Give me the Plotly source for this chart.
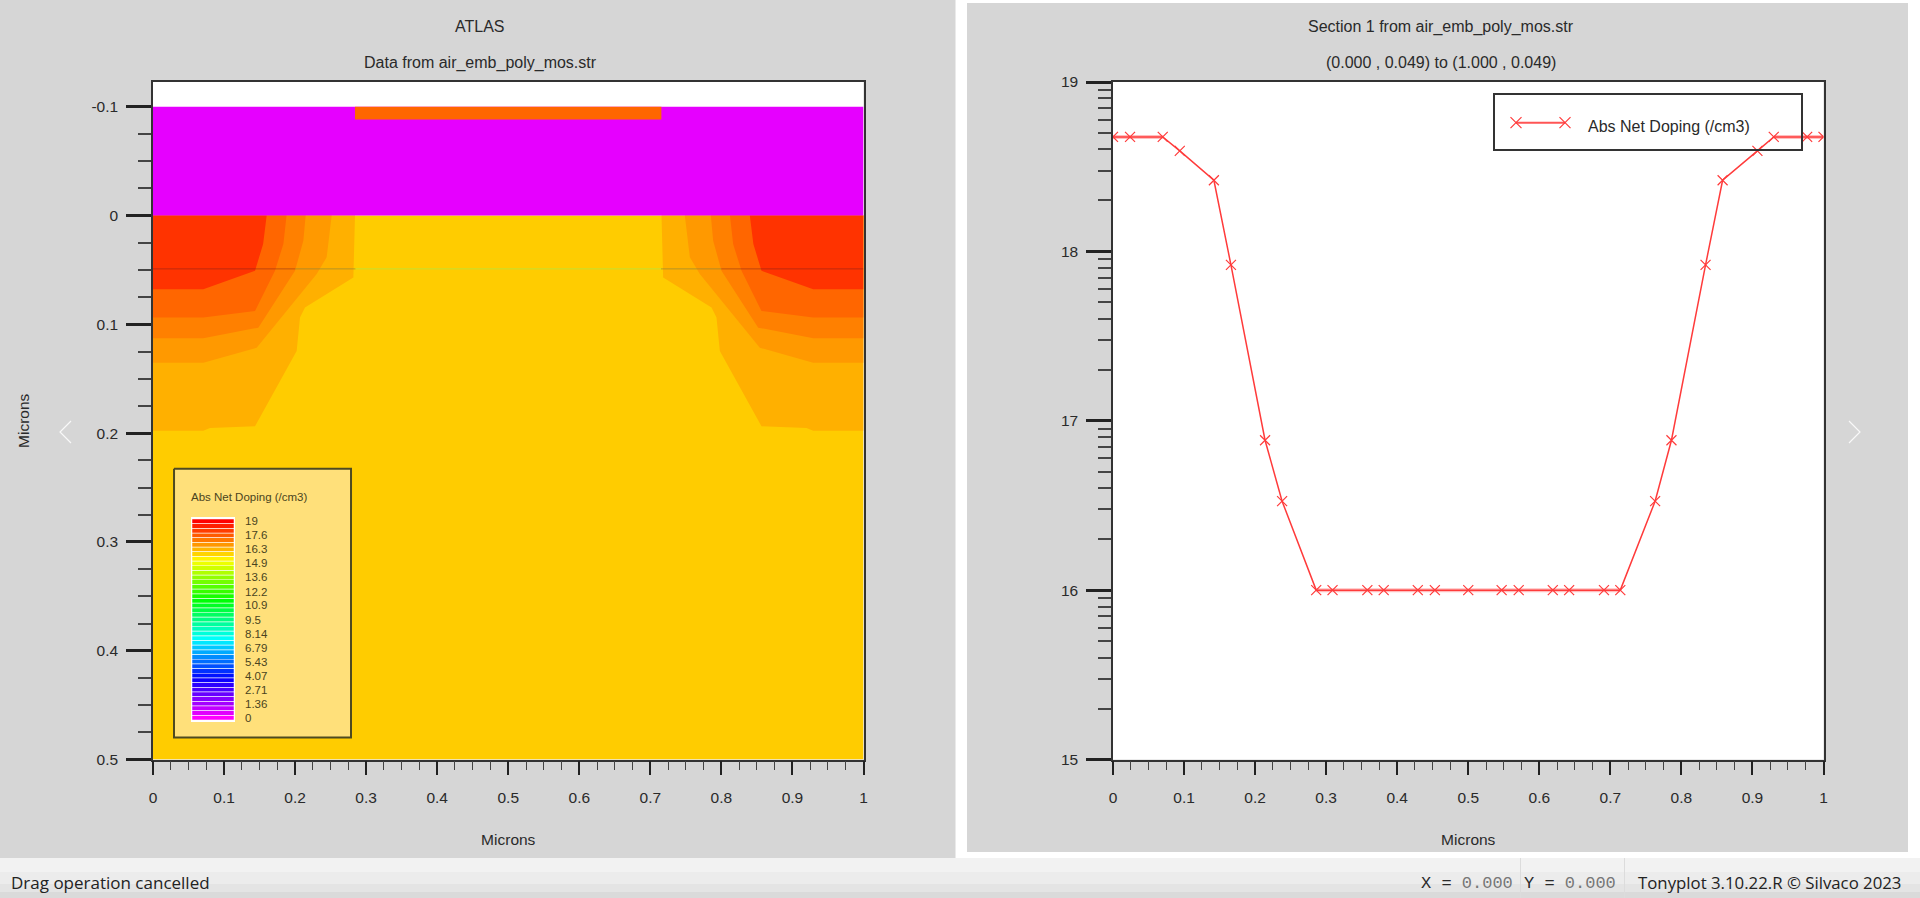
import colorsys
import numpy as np
import plotly.graph_objects as go

W, H = 1920, 898

# ---------- data ----------
# section through the structure at y = 0.049
section_x = [0, 0.024, 0.07, 0.094, 0.142, 0.166, 0.214, 0.238, 0.286, 0.309, 0.358, 0.381, 0.429, 0.453,
             0.5, 0.547, 0.571, 0.619, 0.642, 0.691, 0.714, 0.763, 0.786, 0.834, 0.858, 0.907, 0.93, 0.977, 1]
section_y = [18.676, 18.676, 18.676, 18.593, 18.42, 17.92, 16.885, 16.525, 16.0, 16.0, 16.0, 16.0, 16.0, 16.0,
             16.0, 16.0, 16.0, 16.0, 16.0, 16.0, 16.0, 16.525, 16.885, 17.92, 18.42, 18.593, 18.676, 18.676, 18.676]

# contour edges, left half of the structure (the right half mirrors it)
band5_x = [0.2843, 0.2820, 0.2139, 0.2069, 0.2022, 0.1436, 0.0802, 0.0708, 0]
band5_y = [0, 0.0569, 0.0846, 0.0938, 0.1245, 0.1937, 0.1953, 0.1977, 0.1977]
band4_x = [0.2515, 0.2444, 0.2304, 0.1459, 0.0708, 0]
band4_y = [0, 0.0384, 0.0538, 0.1215, 0.1353, 0.1353]
band3_x = [0.2149, 0.2116, 0.1999, 0.1482, 0.0708, 0]
band3_y = [0, 0.0231, 0.0507, 0.1030, 0.1128, 0.1128]
band2_x = [0.188, 0.1835, 0.1717, 0.1436, 0.0708, 0]
band2_y = [0, 0.0261, 0.0507, 0.0876, 0.0938, 0.0938]
band1_x = [0.160, 0.155, 0.1436, 0.0708, 0]
band1_y = [0, 0.0261, 0.0507, 0.0677, 0.0677]
band_colors = ["#ffb000", "#ff9900", "#ff8000", "#ff6600", "#ff3300"]

oxide_x = [0, 1, 1, 0]
oxide_y = [-0.1, -0.1, 0, 0]
poly_x = [0.2843, 0.7155, 0.7155, 0.2843]
poly_y = [-0.1, -0.1, -0.0884, -0.0884]
silicon_x = [0, 1, 1, 0]
silicon_y = [0, 0, 0.5, 0.5]

# contour legend
level_labels = ["19", "17.6", "16.3", "14.9", "13.6", "12.2", "10.9", "9.5",
                "8.14", "6.79", "5.43", "4.07", "2.71", "1.36", "0"]
level_values = [19, 17.64, 16.29, 14.93, 13.57, 12.21, 10.86, 9.5, 8.14, 6.79, 5.43, 4.07, 2.71, 1.36, 0]
LEVELS = 43

left_x_ticks = [0, 0.1, 0.2, 0.3, 0.4, 0.5, 0.6, 0.7, 0.8, 0.9, 1]
left_x_labels = ["0", "0.1", "0.2", "0.3", "0.4", "0.5", "0.6", "0.7", "0.8", "0.9", "1"]
left_y_ticks = [-0.1, 0, 0.1, 0.2, 0.3, 0.4, 0.5]
left_y_labels = ["-0.1", "0", "0.1", "0.2", "0.3", "0.4", "0.5"]
right_y_ticks = [15, 16, 17, 18, 19]
right_y_labels = ["15", "16", "17", "18", "19"]

PANEL = "#d6d6d6"
INK = "#2a2a2a"
FONT = "Liberation Sans"


# ---------- helpers ----------
def px(x):
    return x / W


def py(y):
    return 1 - y / H


def rect(x0, y0, x1, y1, color):
    return dict(type="rect", xref="paper", yref="paper", x0=px(x0), x1=px(x1), y0=py(y1), y1=py(y0),
                fillcolor=color, line_width=0, layer="below")


def label(text, x, y, size=16, anchor="center", color=INK, family=FONT, angle=0):
    return dict(text=text, xref="paper", yref="paper", x=px(x), y=py(y), xanchor=anchor, yanchor="middle",
                showarrow=False, textangle=angle, font=dict(size=size, color=color, family=family))


def mirrored(xs, ys):
    left_x = [0] + list(xs)
    left_y = [0] + list(ys)
    return left_x + [None] + [1 - v for v in left_x], left_y + [None] + left_y


def polygon(xs, ys, color, name):
    return go.Scatter(x=xs, y=ys, mode="lines", fill="toself", fillcolor=color, line=dict(width=0),
                      hoverinfo="skip", showlegend=False, name=name, xaxis="x", yaxis="y")


fig = go.Figure()

# ---------- left: structure ----------
fig.add_trace(polygon(silicon_x, silicon_y, "#ffcc00", "Silicon"))
bands = [(band5_x, band5_y), (band4_x, band4_y), (band3_x, band3_y), (band2_x, band2_y), (band1_x, band1_y)]
for (bx, by), col in zip(bands, band_colors):
    xs, ys = mirrored(bx, by)
    fig.add_trace(polygon(xs, ys, col, "Doping band"))
fig.add_trace(polygon(oxide_x, oxide_y, "#e600ff", "Oxide"))
fig.add_trace(polygon(poly_x, poly_y, "#ff6600", "Poly"))

# cut line of the section
fig.add_trace(go.Scatter(x=[0, 0.2], y=[0.049, 0.049], mode="lines", line=dict(color="rgba(110,30,30,0.45)", width=1),
                         hoverinfo="skip", showlegend=False))
fig.add_trace(go.Scatter(x=[0.2, 0.285], y=[0.049, 0.049], mode="lines", line=dict(color="rgba(130,130,60,0.6)", width=1),
                         hoverinfo="skip", showlegend=False))
fig.add_trace(go.Scatter(x=[0.285, 0.715], y=[0.049, 0.049], mode="lines", line=dict(color="#c4e030", width=1),
                         hoverinfo="skip", showlegend=False))
fig.add_trace(go.Scatter(x=[0.715, 0.8], y=[0.049, 0.049], mode="lines", line=dict(color="rgba(130,130,60,0.6)", width=1),
                         hoverinfo="skip", showlegend=False))
fig.add_trace(go.Scatter(x=[0.8, 1], y=[0.049, 0.049], mode="lines", line=dict(color="rgba(110,30,30,0.45)", width=1),
                         hoverinfo="skip", showlegend=False))

# contour legend panel
fig.add_trace(go.Scatter(x=[0.0296, 0.2787, 0.2787, 0.0296, 0.0296], y=[0.2328, 0.2328, 0.4798, 0.4798, 0.2328],
                         mode="lines", fill="toself", fillcolor="#ffe07a", line=dict(color="#4f4a20", width=2),
                         hoverinfo="skip", showlegend=False, xaxis="x", yaxis="y"))

# contour legend strips
strip_levels = np.linspace(0, 19, LEVELS)
strip_colors = ["#%02x%02x%02x" % tuple(int(round(c * 255)) for c in colorsys.hsv_to_rgb((300 - 300 * i / (LEVELS - 1)) / 360, 1, 1))
                for i in range(LEVELS)]
fig.add_trace(go.Bar(x=[1.06], base=[-0.03], y=[9.5], orientation="h", width=19.84, marker=dict(color="#ffffff", line_width=0),
                     hoverinfo="skip", showlegend=False, xaxis="x3", yaxis="y3"))
fig.add_trace(go.Bar(x=[1] * LEVELS, y=strip_levels, orientation="h", marker=dict(color=strip_colors, line_width=0),
                     width=19 / (LEVELS - 1) * 0.85, hoverinfo="skip", showlegend=False, xaxis="x3", yaxis="y3"))

# ---------- right: section ----------
# the flat runs look heavier in the original: a pale underlay on those runs
for a, b in ((0, 3), (8, 21), (26, 29)):
    fig.add_trace(go.Scatter(x=section_x[a:b], y=section_y[a:b], mode="lines",
                             line=dict(color="rgba(255,70,70,0.35)", width=4),
                             hoverinfo="skip", showlegend=False, xaxis="x2", yaxis="y2"))
fig.add_trace(go.Scatter(x=section_x, y=section_y, mode="lines+markers", name="Abs Net Doping (/cm3)",
                         line=dict(color="#ff3b3b", width=1.5),
                         marker=dict(symbol="x-thin", size=10, line=dict(color="#ff3b3b", width=1.2)),
                         showlegend=False, xaxis="x2", yaxis="y2"))
fig.add_trace(go.Scatter(x=[21.4, 70.4], y=[27.7, 27.7], mode="lines+markers", name="Abs Net Doping (/cm3)",
                         line=dict(color="#ff5555", width=2),
                         marker=dict(symbol="x-thin", size=11, line=dict(color="#ff3b3b", width=1.2)),
                         hoverinfo="skip", showlegend=False, xaxis="x4", yaxis="y4"))

# ---------- layout ----------
minor_x = [round(i * 0.025, 3) for i in range(41) if i % 4]
minor_left_y = [round(-0.1 + i * 0.025, 3) for i in range(25) if i % 4]
minor_right_y = [d + float(np.log10(k)) for d in (15, 16, 17, 18) for k in range(2, 10)]

x_common = dict(range=[0, 1], tickmode="array", tickvals=left_x_ticks, ticktext=left_x_labels,
                ticks="outside", ticklen=14, tickwidth=2.2, tickcolor="#222222", ticklabelstandoff=9,
                tickfont=dict(size=15.5, color=INK, family=FONT),
                showline=True, linecolor="#333333", linewidth=1.5, mirror=True,
                showgrid=False, zeroline=False,
                minor=dict(ticks="outside", ticklen=9, tickwidth=1.4, tickcolor="#444444",
                           tickmode="array", tickvals=minor_x, showgrid=False),
                title=dict(text="Microns", standoff=29, font=dict(size=15.5, color=INK, family=FONT)))
y_common = dict(ticks="outside", ticklen=25, tickwidth=3, tickcolor="#222222",
                tickfont=dict(size=15.5, color=INK, family=FONT), ticklabelstandoff=5,
                showline=True, linecolor="#333333", linewidth=1.5, mirror=True,
                showgrid=False, zeroline=False, tickmode="array")

fig.update_layout(
    width=W, height=H, margin=dict(l=0, r=0, t=0, b=0, autoexpand=False), autosize=False,
    paper_bgcolor="#ffffff", plot_bgcolor="rgba(0,0,0,0)",
    font=dict(family=FONT, color=INK), showlegend=False, barmode="overlay",
    xaxis=dict(domain=[px(153), px(863.5)], anchor="y", **x_common),
    yaxis=dict(domain=[py(759.5), py(82)], anchor="x", range=[0.5, -0.1228],
               tickvals=left_y_ticks, ticktext=left_y_labels,
               minor=dict(ticks="outside", ticklen=13, tickwidth=2, tickcolor="#444444",
                          tickmode="array", tickvals=minor_left_y, showgrid=False),
               title=dict(text="Microns", standoff=58, font=dict(size=15.5, color=INK, family=FONT)),
               **y_common),
    xaxis2=dict(domain=[px(1113), px(1823.5)], anchor="y2", **x_common),
    yaxis2=dict(domain=[py(759.5), py(82)], anchor="x2", range=[15, 19],
                tickvals=right_y_ticks, ticktext=right_y_labels,
                minor=dict(ticks="outside", ticklen=13, tickwidth=2, tickcolor="#444444",
                           tickmode="array", tickvals=minor_right_y, showgrid=False),
                **y_common),
    xaxis3=dict(domain=[px(191), px(235)], anchor="y3", range=[-0.03, 1.03], visible=False, fixedrange=True),
    yaxis3=dict(domain=[py(722), py(517)], anchor="x3", side="right", range=[-0.42, 19.42],
                tickmode="array", tickvals=level_values, ticktext=level_labels, ticks="", ticklabelstandoff=9,
                tickfont=dict(size=11.5, color="#4a4420", family=FONT),
                showline=False, showgrid=False, zeroline=False, fixedrange=True),
    xaxis4=dict(domain=[px(1494.6), px(1800.8)], anchor="y4", range=[0, 306.2], showticklabels=False, ticks="",
                showline=True, linecolor="#333333", linewidth=2, mirror=True, showgrid=False, zeroline=False,
                fixedrange=True),
    yaxis4=dict(domain=[py(149), py(95)], anchor="x4", range=[54, 0], showticklabels=False, ticks="",
                showline=True, linecolor="#333333", linewidth=2, mirror=True, showgrid=False, zeroline=False,
                fixedrange=True),
)

fig.update_layout(
    shapes=[
        rect(0, 0, 955.5, 858, PANEL),
        rect(967, 3, 1908, 852, PANEL),
        rect(0, 858, 1920, 872, "#f2f2f2"),
        rect(0, 872, 1920, 884, "#ececec"),
        rect(0, 884, 1920, 892, "#e4e4e4"),
        rect(0, 892, 1920, 898, "#dadada"),
        rect(153, 82, 863.5, 759.5, "#ffffff"),
        rect(1113, 82, 1823.5, 759.5, "#ffffff"),
        rect(1520, 858, 1521, 898, "#dcdcdc"),
        rect(1624, 858, 1625, 898, "#dcdcdc"),
        dict(type="path", xref="paper", yref="paper", layer="above",
             path=f"M {px(71)} {py(421)} L {px(60)} {py(432)} L {px(71)} {py(443)}",
             line=dict(color="rgba(255,255,255,0.85)", width=1.2)),
        dict(type="path", xref="paper", yref="paper", layer="above",
             path=f"M {px(1849)} {py(421)} L {px(1860)} {py(432)} L {px(1849)} {py(443)}",
             line=dict(color="rgba(255,255,255,0.85)", width=1.2)),
    ],
    annotations=[
        label("ATLAS", 479.6, 26.7),
        label("Data from air_emb_poly_mos.str", 480, 63),
        label("Section 1 from air_emb_poly_mos.str", 1440.7, 26.7),
        label("(0.000 , 0.049) to (1.000 , 0.049)", 1441, 63),
        label("Abs Net Doping (/cm3)", 248.8, 497, size=11.5, color="#4a4420"),
        label("Abs Net Doping (/cm3)", 1586, 126.7, size=16, anchor="left"),
        label("Drag operation cancelled", 9, 882, size=17, anchor="left", color="#222222", family="Open Sans"),
        label("X = <span style='color:#777777'>0.000</span>", 1419, 883, size=17, anchor="left",
              family="Liberation Mono"),
        label("Y = <span style='color:#777777'>0.000</span>", 1522, 883, size=17, anchor="left",
              family="Liberation Mono"),
        label("Tonyplot 3.10.22.R © Silvaco 2023", 1636, 882, size=16.8, anchor="left", color="#222222",
              family="Open Sans"),
    ],
)

fig.write_html("out.html", config=dict(displayModeBar=False),
               post_script="document.body.style.margin='0';")
